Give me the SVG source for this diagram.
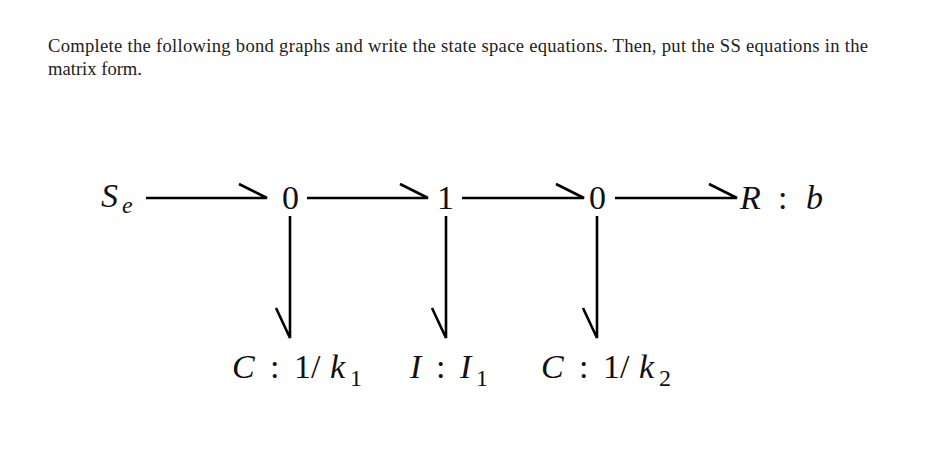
<svg xmlns="http://www.w3.org/2000/svg" width="940" height="470" viewBox="0 0 940 470">
<style>
.t{font-family:"Liberation Serif","Times New Roman",serif;font-size:18.6px;fill:#222}
.m{font-family:"Liberation Serif","Times New Roman",serif;font-size:34px;fill:#111}
.i{font-style:italic}
.s{font-size:24px}
.b{stroke:#000;stroke-width:2.6;fill:none}
</style>
<rect width="940" height="470" fill="#fff"/>
<text class="t" x="48" y="52" textLength="820" lengthAdjust="spacing">Complete the following bond graphs and write the state space equations.  Then, put the SS equations in the</text>
<text class="t" x="48" y="75">matrix form.</text>
<g id="Se"><text class="m i" x="101" y="207">S</text><text class="m i s" x="122" y="213">e</text></g>
<g id="j0a"><text class="m" x="282" y="209">0</text></g>
<g id="j1"><text class="m" x="437" y="209">1</text></g>
<g id="j0b"><text class="m" x="589" y="209">0</text></g>
<g id="R"><text class="m i" x="740" y="209">R</text><text class="m" x="778" y="209">:</text><text class="m i" x="806" y="209">b</text></g>
<g id="C1"><text class="m i" x="232" y="378">C</text><text class="m" x="270" y="378">:</text><text class="m" x="294" y="378">1/</text><text class="m i" x="330" y="378">k</text><text class="m s" x="350" y="386">1</text></g>
<g id="I1"><text class="m i" x="410" y="378">I</text><text class="m" x="436" y="378">:</text><text class="m i" x="460" y="378">I</text><text class="m s" x="476" y="386">1</text></g>
<g id="C2"><text class="m i" x="541" y="378">C</text><text class="m" x="579" y="378">:</text><text class="m" x="603" y="378">1/</text><text class="m i" x="639" y="378">k</text><text class="m s" x="659" y="386">2</text></g>
<g id="connectors" class="b">
<path d="M146 198H267L239 184"/>
<path d="M307 198H428L400 184"/>
<path d="M462 198H584L556 184"/>
<path d="M615 198H737L709 184"/>
<path d="M290 216V338L276 308"/>
<path d="M446 216V338L432 308"/>
<path d="M597 216V338L583 308"/>
</g>
</svg>
